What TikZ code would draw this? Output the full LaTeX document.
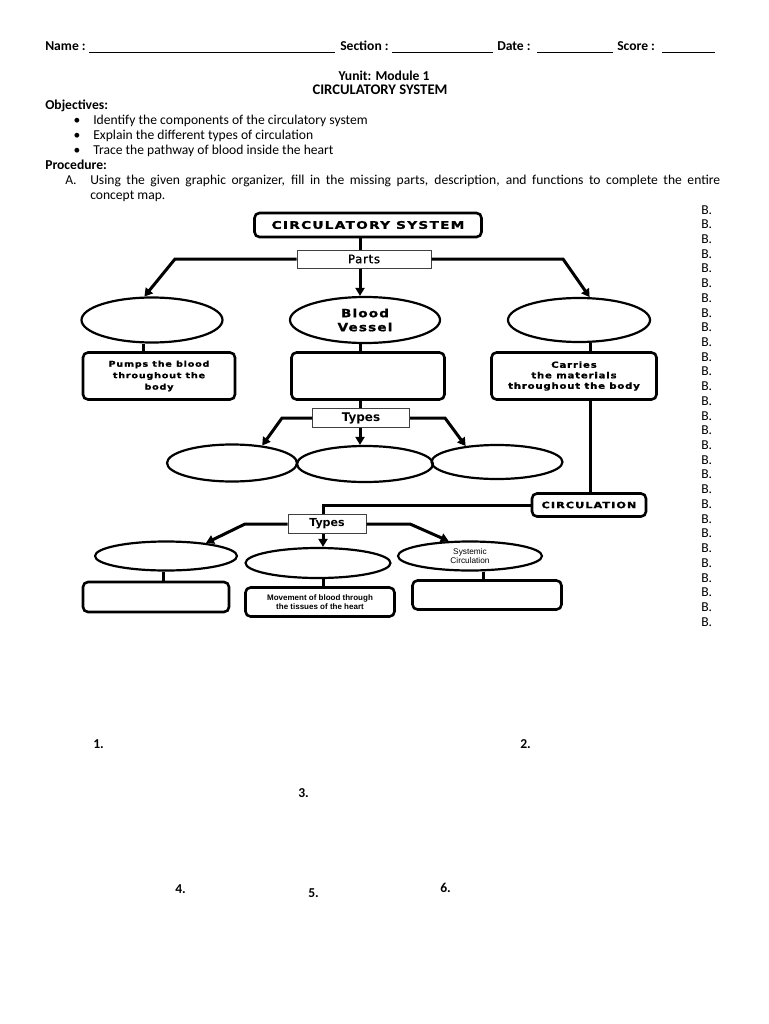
\documentclass[tikz,border=0pt]{standalone}
\usepackage{fontspec}
\setmainfont{Carlito}
\newfontfamily\mapwide[FakeStretch=1.3, FakeBold=1.5, LetterSpace=12]{DejaVu Sans}
\newfontfamily\mapmid[FakeStretch=1.2, FakeBold=1.2, LetterSpace=10]{DejaVu Sans}
\newfontfamily\mapthin[FakeBold=1.2, LetterSpace=6]{DejaVu Sans}
\newfontfamily\mapplain{DejaVu Sans}
\newfontfamily\arialish{Liberation Sans}
\usetikzlibrary{shapes.geometric, arrows.meta}

\newdimen\upx \upx=0.75pt
\newcommand{\blank}[1]{\rule[-1.6pt]{#1\upx}{0.6pt}}

\tikzset{
  sheet/.style={inner sep=0pt, font=\fontsize{10.2}{11.25}\selectfont},
  bigbox/.style={draw, line width=2.6\upx, rounded corners=5\upx, inner sep=0pt, align=center},
  tagbox/.style={draw=black!75, line width=1\upx, inner sep=0pt, fill=white},
  blob/.style={ellipse, draw, line width=2.2\upx, inner sep=0pt, align=center},
  link/.style={line width=3\upx},
  arrow/.style={link, -{Triangle[length=6pt, width=6.75pt]}},
}

\begin{document}
\begin{tikzpicture}[x=0.75pt, y=-0.75pt]
    \useasboundingbox (0,0) rectangle (768,1024);

    % 1. Worksheet heading
    \node[sheet, anchor=base west] (name) at (45,51) {\textbf{Name :}};
    \node[sheet, anchor=base west] (nameblank) at (89,51) {\blank{246}};
    \node[sheet, anchor=base west] (section) at (340,51) {\textbf{Section :}};
    \node[sheet, anchor=base west] (sectionblank) at (392,51) {\blank{101}};
    \node[sheet, anchor=base west] (date) at (497,51) {\textbf{Date :}};
    \node[sheet, anchor=base west] (dateblank) at (537,51) {\blank{76}};
    \node[sheet, anchor=base west] (score) at (617,51) {\textbf{Score :}};
    \node[sheet, anchor=base west] (scoreblank) at (662,51) {\blank{53}};

    \node[sheet, anchor=base] (unit) at (384,80) {\textbf{Yunit: Module 1}};
    \node[sheet, anchor=base, font=\fontsize{11}{12}\selectfont] (topic) at (380,94) {\textbf{CIRCULATORY SYSTEM}};

    % Objectives and procedure
    \node[sheet, anchor=base west] (objectives) at (45,109) {\textbf{Objectives:}};
    \foreach \t [count=\i] in {Identify the components of the circulatory system,
                               Explain the different types of circulation,
                               Trace the pathway of blood inside the heart} {
        \node[sheet, anchor=base] (dot\i) at (77,109+15*\i) {\textbullet};
        \node[sheet, anchor=base west] (obj\i) at (93,109+15*\i) {\t};
    }
    \node[sheet, anchor=base west] (procedure) at (45,169) {\textbf{Procedure:}};
    \node[sheet, anchor=base west] (stepA) at (65,184) {A.};
    \node[sheet, anchor=base west] (task) at (90,184)
        {\makebox[630\upx][s]{Using the given graphic organizer, fill in the missing parts, description, and functions to complete the entire}};
    \node[sheet, anchor=base west] (task2) at (90,199) {concept map.};

    % The B. column on the right
    \foreach \i in {0,...,28}
        \node[sheet, anchor=base west] (b\i) at (701,214+14.72*\i) {B.};

    % 2. Concept map nodes
    \node[bigbox, minimum width=227\upx, minimum height=24\upx,
          font=\mapwide\bfseries\fontsize{7.9}{8}\selectfont] (csys) at (368,225) {CIRCULATORY SYSTEM};
    \node[tagbox, minimum width=134\upx, minimum height=18\upx,
          font=\mapthin\fontsize{8.8}{9}\selectfont] (parts) at (364,259) {Parts};

    % Top row: parts
    \node[blob, minimum width=141\upx, minimum height=45\upx] (heart) at (152,320) {};
    \node[blob, minimum width=150\upx, minimum height=46\upx,
          font=\mapmid\bfseries\fontsize{8.5}{10.5}\selectfont] (vessel) at (365,320) {Blood\\Vessel};
    \node[blob, minimum width=142\upx, minimum height=44\upx] (blood) at (579,320) {};

    % Descriptions
    \node[bigbox, minimum width=152\upx, minimum height=47\upx,
          font=\mapmid\bfseries\fontsize{6}{8.6}\selectfont] (pumps) at (159,376)
          {Pumps the blood\\throughout the\\body};
    \node[bigbox, minimum width=153\upx, minimum height=47\upx] (vesfn) at (368,376) {};
    \node[bigbox, minimum width=165\upx, minimum height=47\upx,
          font=\mapmid\bfseries\fontsize{6.3}{7.9}\selectfont] (carries) at (574,376)
          {Carries\\the materials\\throughout the body};

    % Types of blood vessels
    \node[tagbox, minimum width=97\upx, minimum height=19\upx,
          font=\mapplain\bfseries\fontsize{9}{9}\selectfont] (types1) at (361,418) {Types};
    \node[blob, minimum width=130\upx, minimum height=37\upx] (art) at (232,463) {};
    \node[blob, minimum width=136\upx, minimum height=36\upx] (cap) at (365,464) {};
    \node[blob, minimum width=131\upx, minimum height=34\upx] (vein) at (497,462) {};

    % Circulation branch
    \node[bigbox, minimum width=114\upx, minimum height=23\upx,
          font=\mapwide\bfseries\fontsize{6.5}{7}\selectfont] (circ) at (589,505) {CIRCULATION};
    \node[tagbox, minimum width=78\upx, minimum height=19\upx,
          font=\mapplain\bfseries\fontsize{8.3}{9}\selectfont] (types2) at (327,524) {Types};
    \node[blob, minimum width=142\upx, minimum height=29\upx] (pul) at (166,556) {};
    \node[blob, minimum width=145\upx, minimum height=30\upx] (cor) at (318,563) {};
    \node[blob, minimum width=144\upx, minimum height=29\upx,
          font=\arialish\fontsize{6.2}{6.8}\selectfont] (sys) at (470,556) {Systemic\\Circulation};
    \node[bigbox, minimum width=146\upx, minimum height=30\upx] (puldesc) at (156,597) {};
    \node[bigbox, minimum width=149\upx, minimum height=29\upx,
          font=\arialish\bfseries\fontsize{6}{6.4}\selectfont] (cordesc) at (320,602)
          {Movement of blood through\\the tissues of the heart};
    \node[bigbox, minimum width=149\upx, minimum height=29\upx] (sysdesc) at (487,595) {};

    % 3. Connectors
    \coordinate (colA) at (143,0);
    \coordinate (colB) at (360,0);
    \coordinate (colC) at (590,0);
    \coordinate (colD) at (163,0);
    \coordinate (colE) at (323,0);
    \coordinate (colF) at (483,0);
    \coordinate (partsL) at (175,259);
    \coordinate (partsR) at (563,259);
    \coordinate (typesL) at (282,418);
    \coordinate (typesR) at (445,418);
    \coordinate (types2L) at (245,524);
    \coordinate (types2R) at (410,524);

    \draw[link] (csys.south -| colB) -- (parts.north -| colB);
    \draw[arrow] (parts.west) -- (partsL) -- (heart.108);
    \draw[arrow] (parts.east) -- (partsR) -- (blood.65);
    \draw[arrow] (parts.south -| colB) -- (vessel.north -| colB);

    \draw[link] (heart.south -| colA) -- (pumps.north -| colA);
    \draw[link] (vessel.south -| colB) -- (vesfn.north -| colB);
    \draw[link] (blood.south -| colC) -- (carries.north -| colC);

    \draw[link] (vesfn.south -| colB) -- (types1.north -| colB);
    \draw[arrow] (types1.west) -- (typesL) -- (art.30);
    \draw[arrow] (types1.east) -- (typesR) -- (vein.153);
    \draw[arrow] (types1.south -| colB) -- (cap.north -| colB);

    \draw[link] (carries.south -| colC) -- (circ.north -| colC);
    \draw[link] (circ.west) -- (circ.west -| colE) -- (types2.north -| colE);
    \draw[arrow] (types2.west) -- (types2L) -- (pul.18);
    \draw[arrow] (types2.east) -- (types2R) -- (sys.145);
    \draw[arrow] (types2.south -| colE) -- (cor.north -| colE);

    \draw[link] (pul.south -| colD) -- (puldesc.north -| colD);
    \draw[link] (cor.south -| colE) -- (cordesc.north -| colE);
    \draw[link] (sys.south -| colF) -- (sysdesc.north -| colF);

    % 4. Numbers below the map
    \node[sheet, anchor=base west] (n1) at (93,748) {\textbf{1.}};
    \node[sheet, anchor=base west] (n2) at (520,748) {\textbf{2.}};
    \node[sheet, anchor=base west] (n3) at (298,797) {\textbf{3.}};
    \node[sheet, anchor=base west] (n4) at (175,893) {\textbf{4.}};
    \node[sheet, anchor=base west] (n5) at (308,897) {\textbf{5.}};
    \node[sheet, anchor=base west] (n6) at (440,892) {\textbf{6.}};
\end{tikzpicture}
\end{document}
